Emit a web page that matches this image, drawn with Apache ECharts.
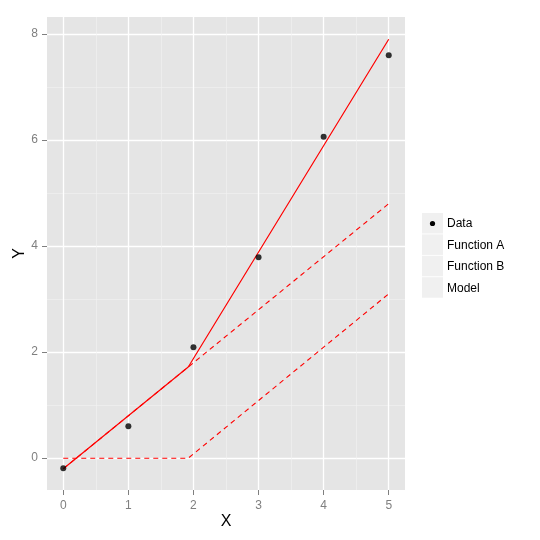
<!DOCTYPE html>
<html><head><meta charset="utf-8">
<script src="https://cdn.jsdelivr.net/npm/echarts@6/dist/echarts.min.js"></script>
<style>html,body{margin:0;padding:0;background:#fff}#c{width:540px;height:540px}</style>
</head><body><div id="c"></div>
<script>
const dataX = [0, 1, 2, 3, 4, 5];
const dataY = [-0.19, 0.60, 2.09, 3.79, 6.06, 7.60];
const lineX = [0, 1.92, 5];
const funcA = [-0.2, 1.72, 4.8];
const funcB = [0, 0, 3.1];
const model = [-0.2, 1.72, 7.9];
const legendNames = ['Data', 'Function A', 'Function B', 'Model'];

const pair = (xs, ys) => xs.map((x, i) => [x, ys[i]]);
const chart = echarts.init(document.getElementById('c'), null, {renderer: 'canvas'});
const font = 'Helvetica, "Liberation Sans", Arial, sans-serif';
const tickLabel = {color: '#7f7f7f', fontSize: 12, fontFamily: font};

const legendGraphics = [];
legendNames.forEach((n, i) => {
  const y = 213 + i * 21.4;
  legendGraphics.push({type: 'rect', left: 422, top: y, shape: {width: 21, height: 20.5}, style: {fill: '#f0f0f0'}, silent: true});
  legendGraphics.push({type: 'text', left: 447, top: y + 5, style: {text: n, fill: '#000', fontSize: 12, fontFamily: font}, silent: true});
});
legendGraphics.push({type: 'circle', shape: {cx: 432.5, cy: 223.5, r: 2.6}, style: {fill: '#000'}, silent: true});

chart.setOption({
  backgroundColor: '#fff',
  animation: false,
  grid: {left: 47, top: 17, right: 135, bottom: 50, show: true, backgroundColor: '#e5e5e5', borderWidth: 0,
    containLabel: false, outerBoundsMode: 'none'},
  xAxis: [
    {type: 'value', min: -0.25, max: 5.25, splitNumber: 5, name: 'X', nameLocation: 'middle', nameGap: 24,
      nameMoveOverlap: false,
      nameTextStyle: {color: '#000', fontSize: 16, fontFamily: font},
      axisLine: {show: false, onZero: false}, axisTick: {show: true, length: 5, lineStyle: {color: '#7f7f7f'}},
      axisLabel: Object.assign({margin: 10, showMinLabel: false, showMaxLabel: false}, tickLabel),
      splitLine: {show: true, showMinLine: false, showMaxLine: false, lineStyle: {color: '#fff', width: 1.3}}},
    {type: 'value', min: -0.75, max: 4.75, splitNumber: 5, show: true,
      axisLine: {show: false, onZero: false}, axisTick: {show: false}, axisLabel: {show: false},
      splitLine: {show: true, showMinLine: false, showMaxLine: false, lineStyle: {color: '#f2f2f2', width: 0.6}}}
  ],
  yAxis: [
    {type: 'value', min: -0.6, max: 8.32, splitNumber: 4, name: 'Y', nameLocation: 'middle', nameGap: 19,
      nameMoveOverlap: false,
      nameTextStyle: {color: '#000', fontSize: 16, fontFamily: font},
      axisLine: {show: false, onZero: false}, axisTick: {show: true, length: 5, lineStyle: {color: '#7f7f7f'}},
      axisLabel: Object.assign({margin: 9, showMinLabel: false, showMaxLabel: false}, tickLabel),
      splitLine: {show: true, showMinLine: false, showMaxLine: false, lineStyle: {color: '#fff', width: 1.3}}},
    {type: 'value', min: -1.6, max: 7.32, splitNumber: 4, show: true, position: 'left',
      axisLine: {show: false, onZero: false}, axisTick: {show: false}, axisLabel: {show: false},
      splitLine: {show: true, showMinLine: false, showMaxLine: false, lineStyle: {color: '#f2f2f2', width: 0.6}}}
  ],
  series: [
    {name: 'Function A', type: 'line', data: pair(lineX, funcA), symbol: 'none', z: 3,
      lineStyle: {color: '#ff0000', width: 1.1, type: [5, 4]}},
    {name: 'Function B', type: 'line', data: pair(lineX, funcB), symbol: 'none', z: 3,
      lineStyle: {color: '#ff0000', width: 1.1, type: [5, 4]}},
    {name: 'Model', type: 'line', data: pair(lineX, model), symbol: 'none', z: 4,
      lineStyle: {color: '#ff0000', width: 1.2}},
    {name: 'Data', type: 'scatter', data: pair(dataX, dataY), symbol: 'circle', symbolSize: 6, z: 5,
      itemStyle: {color: '#000'}}
  ],
  graphic: legendGraphics
});
</script></body></html>
